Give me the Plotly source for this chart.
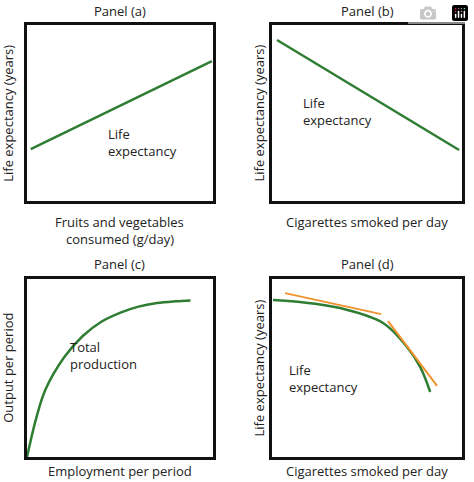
import plotly.graph_objects as go

# Panel (a): fruits/veg vs life expectancy
a_x = [0.2, 9.95]
a_y = [2.95, 7.95]
# Panel (b): cigarettes vs life expectancy
b_x = [0.26, 9.84]
b_y = [9.15, 2.9]
# Panel (c): total production curve
c_x = [0, 0.5, 1, 2, 3, 4, 5, 6, 7, 8, 8.8]
c_y = [0, 2.2, 3.8, 5.6, 6.8, 7.6, 8.1, 8.45, 8.65, 8.75, 8.8]
# Panel (d): life expectancy curve and two tangents
d_x = [0.05, 1.47, 3.58, 5.84, 7.1, 7.79, 8.32]
d_y = [8.82, 8.71, 8.37, 7.53, 6.18, 5.06, 3.65]
t1_x = [0.68, 5.74]
t1_y = [9.21, 8.03]
t2_x = [6.1, 8.68]
t2_y = [7.64, 3.99]

GREEN = "#2e7d32"
ORANGE = "#f0922e"
FONT = "Open Sans"

fig = go.Figure()
fig.add_trace(go.Scatter(x=a_x, y=a_y, mode="lines", line=dict(color=GREEN, width=2.5), xaxis="x", yaxis="y"))
fig.add_trace(go.Scatter(x=b_x, y=b_y, mode="lines", line=dict(color=GREEN, width=2.5), xaxis="x2", yaxis="y2"))
fig.add_trace(go.Scatter(x=c_x, y=c_y, mode="lines", line=dict(color=GREEN, width=2.5, shape="spline"), xaxis="x3", yaxis="y3"))
fig.add_trace(go.Scatter(x=d_x, y=d_y, mode="lines", line=dict(color=GREEN, width=2.5, shape="spline"), xaxis="x4", yaxis="y4"))
fig.add_trace(go.Scatter(x=t1_x, y=t1_y, mode="lines", line=dict(color=ORANGE, width=2), xaxis="x4", yaxis="y4"))
fig.add_trace(go.Scatter(x=t2_x, y=t2_y, mode="lines", line=dict(color=ORANGE, width=2), xaxis="x4", yaxis="y4"))

xd = {"x": [0.057, 0.449], "x2": [0.574, 0.975], "x3": [0.057, 0.449], "x4": [0.574, 0.975]}
yd = {"y": [0.583, 0.948], "y2": [0.583, 0.948], "y3": [0.052, 0.421], "y4": [0.052, 0.421]}
ax = dict(range=[0, 10], showgrid=False, zeroline=False, showticklabels=False, ticks="",
          showline=True, linecolor="#111", linewidth=3, mirror=True, fixedrange=True)
layout = dict(width=474, height=482, margin=dict(l=0, r=0, t=0, b=0), showlegend=False,
              plot_bgcolor="white", paper_bgcolor="white", font=dict(family=FONT, size=13, color="#222"))
for k in ["", "2", "3", "4"]:
    layout["xaxis" + k] = dict(ax, domain=xd["x" + k], anchor="y" + k)
    layout["yaxis" + k] = dict(ax, domain=yd["y" + k], anchor="x" + k)
fig.update_layout(**layout)

def note(text, x, y, xref="paper", yref="paper", xa="center", ya="middle", angle=0):
    fig.add_annotation(text=text, x=x, y=y, xref=xref, yref=yref, xanchor=xa, yanchor=ya,
                       textangle=angle, showarrow=False, align="left", font=dict(family=FONT, size=13))

# panel titles
note("Panel (a)", 0.253, 0.978)
note("Panel (b)", 0.775, 0.978)
note("Panel (c)", 0.253, 0.452)
note("Panel (d)", 0.775, 0.452)
# axis titles
note("Life expectancy (years)", 0.018, 0.765, angle=-90)
note("Life expectancy (years)", 0.547, 0.765, angle=-90)
note("Output per period", 0.018, 0.236, angle=-90)
note("Life expectancy (years)", 0.547, 0.236, angle=-90)
note("Fruits and vegetables", 0.253, 0.540)
note("consumed (g/day)", 0.253, 0.505)
note("Cigarettes smoked per day", 0.775, 0.540)
note("Employment per period", 0.253, 0.022)
note("Cigarettes smoked per day", 0.775, 0.022)
# curve labels
note("Life<br>expectancy", 4.25, 3.35, "x", "y", xa="left")
note("Life<br>expectancy", 1.5, 5.06, "x2", "y2", xa="left")
note("Total<br>production", 2.2, 5.7, "x3", "y3", xa="left")
note("Life<br>expectancy", 0.8, 4.4, "x4", "y4", xa="left")

fig.write_html("out.html", post_script="document.body.style.margin='0';document.body.style.overflow='hidden';")
